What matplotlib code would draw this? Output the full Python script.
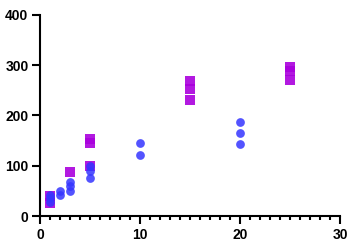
import matplotlib
matplotlib.use("Agg")
import matplotlib.pyplot as plt
from matplotlib.ticker import MultipleLocator

plt.rcParams['font.family'] = ['Liberation Sans', 'DejaVu Sans']

# blue circles
blue_x = [1, 1, 1, 2, 2, 3, 3, 3, 5, 5, 5, 10, 10, 20, 20, 20]
blue_y = [42, 35, 28, 49, 42, 67, 59, 50, 99, 89, 76, 145, 121, 187, 166, 143]

# purple squares
purple_x = [1, 1, 3, 5, 5, 5, 15, 15, 15, 25, 25, 25]
purple_y = [39, 25, 87, 153, 145, 99, 269, 253, 231, 296, 288, 270]

x_ticks = [0, 10, 20, 30]
y_ticks = [0, 100, 200, 300, 400]

fig = plt.figure(figsize=(3.6, 2.49), dpi=100)
ax = fig.add_axes([40 / 360, 1 - 216 / 249, 300 / 360, 201 / 249])

ax.plot(purple_x, purple_y, 's', color='#AA00DD', markersize=6.7,
        markeredgewidth=0, alpha=0.9, clip_on=False)
ax.plot(blue_x, blue_y, 'o', color='#3535FF', markersize=6.3,
        markeredgewidth=0, alpha=0.85, clip_on=False)

ax.set_xlim(0, 30)
ax.set_ylim(0, 400)
ax.set_xticks(x_ticks)
ax.set_yticks(y_ticks)
ax.xaxis.set_minor_locator(MultipleLocator(1))

for s in ['top', 'right']:
    ax.spines[s].set_visible(False)
for s in ['left', 'bottom']:
    ax.spines[s].set_linewidth(1.5)

ax.tick_params(which='major', length=5.8, width=1.5, labelsize=10, pad=2.5)
ax.tick_params(which='minor', length=2.9, width=1.5)
for lbl in ax.get_xticklabels() + ax.get_yticklabels():
    lbl.set_fontweight('bold')

fig.savefig('out.png', dpi=100)
